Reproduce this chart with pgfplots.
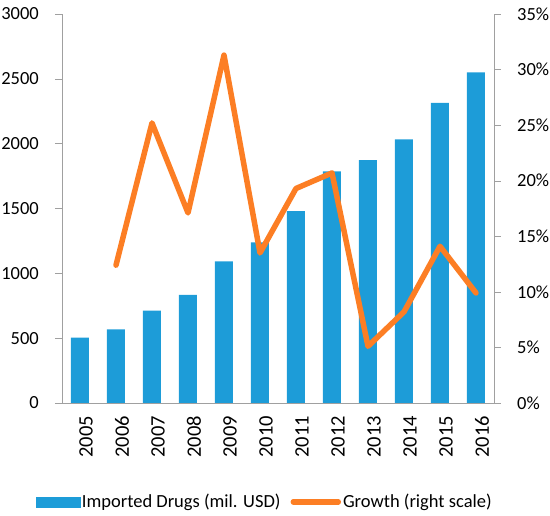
\documentclass[border=0pt]{standalone}
\usepackage{pgfplots}
\pgfplotsset{compat=1.18}
\usepackage{fontspec}
\setmainfont{Carlito}
\definecolor{barblue}{RGB}{29,156,216}
\definecolor{lineorange}{RGB}{252,126,36}
\definecolor{axisgray}{RGB}{160,160,160}

\begin{document}
\fontsize{18pt}{21pt}\selectfont
\begin{tikzpicture}[x=1pt,y=1pt]
\path[use as bounding box] (-62,-113) rectangle (488,403);
\pgfplotsset{
  base/.style={
    at={(0,0)}, anchor=south west,
    scale only axis,
    width=432pt, height=389pt,
    xmin=-0.5, xmax=11.5,
    /pgf/number format/assume math mode=true,
    /pgf/number format/1000 sep={},
    tick style={axisgray, thin},
    axis line style={axisgray, thin},
    tick align=outside,
    major tick length=7pt,
    ticklabel style={font=\fontsize{18.5pt}{21pt}\selectfont, text=black},
  }
}
\begin{axis}[
  base,
  axis y line*=left,
  axis x line*=bottom,
  ymin=0, ymax=3000,
  ytick={0,500,...,3000},
  scaled y ticks=false,
  xtick={0,...,11},
  xticklabels={2005,2006,2007,2008,2009,2010,2011,2012,2013,2014,2015,2016},
  xticklabel style={rotate=90, anchor=east, yshift=-6pt,
    font=\fontsize{20.5pt}{23pt}\selectfont},
  x tick style={draw=none},
  extra x ticks={-0.5,0.5,...,11.5},
  extra x tick labels={},
  extra x tick style={major tick length=9pt, tick style={axisgray, thin}},
  ybar, bar width=18pt,
  yticklabel style={xshift=-10pt},
]
\addplot[fill=barblue, draw=none] coordinates {
  (0,505) (1,568) (2,712) (3,833) (4,1092) (5,1239)
  (6,1480) (7,1786) (8,1874) (9,2033) (10,2315) (11,2549)
};
\end{axis}
\begin{axis}[
  base,
  axis y line*=right,
  axis x line=none,
  ymin=0, ymax=35,
  ytick={0,5,...,35},
  yticklabel={\pgfmathprintnumber{\tick}\%},
  yticklabel style={xshift=10pt},
  legend style={
    at={(0.469,-0.254)}, anchor=center,
    draw=none, fill=none,
    font=\fontsize{18.5pt}{21pt}\selectfont,
    legend columns=2,
    /tikz/every even column/.append style={column sep=8pt},
    inner sep=0pt,
  },
  legend cell align=left,
]
\addlegendimage{legend image code/.code={\fill[barblue] (0pt,-5pt) rectangle (44pt,5pt);}}
\addlegendentry{Imported Drugs (mil. USD)}
\addplot[lineorange, line width=5.5pt, line join=round, line cap=round,
  legend image code/.code={\draw[lineorange, line width=5.5pt, line cap=round] (3pt,0pt) -- (48pt,0pt);}]
  coordinates {
  (1,12.4) (2,25.2) (3,17.1) (4,31.3) (5,13.5) (6,19.3)
  (7,20.7) (8,5.1) (9,8.2) (10,14.1) (11,9.9)
};
\addlegendentry{Growth (right scale)}
\end{axis}
\end{tikzpicture}
\end{document}
